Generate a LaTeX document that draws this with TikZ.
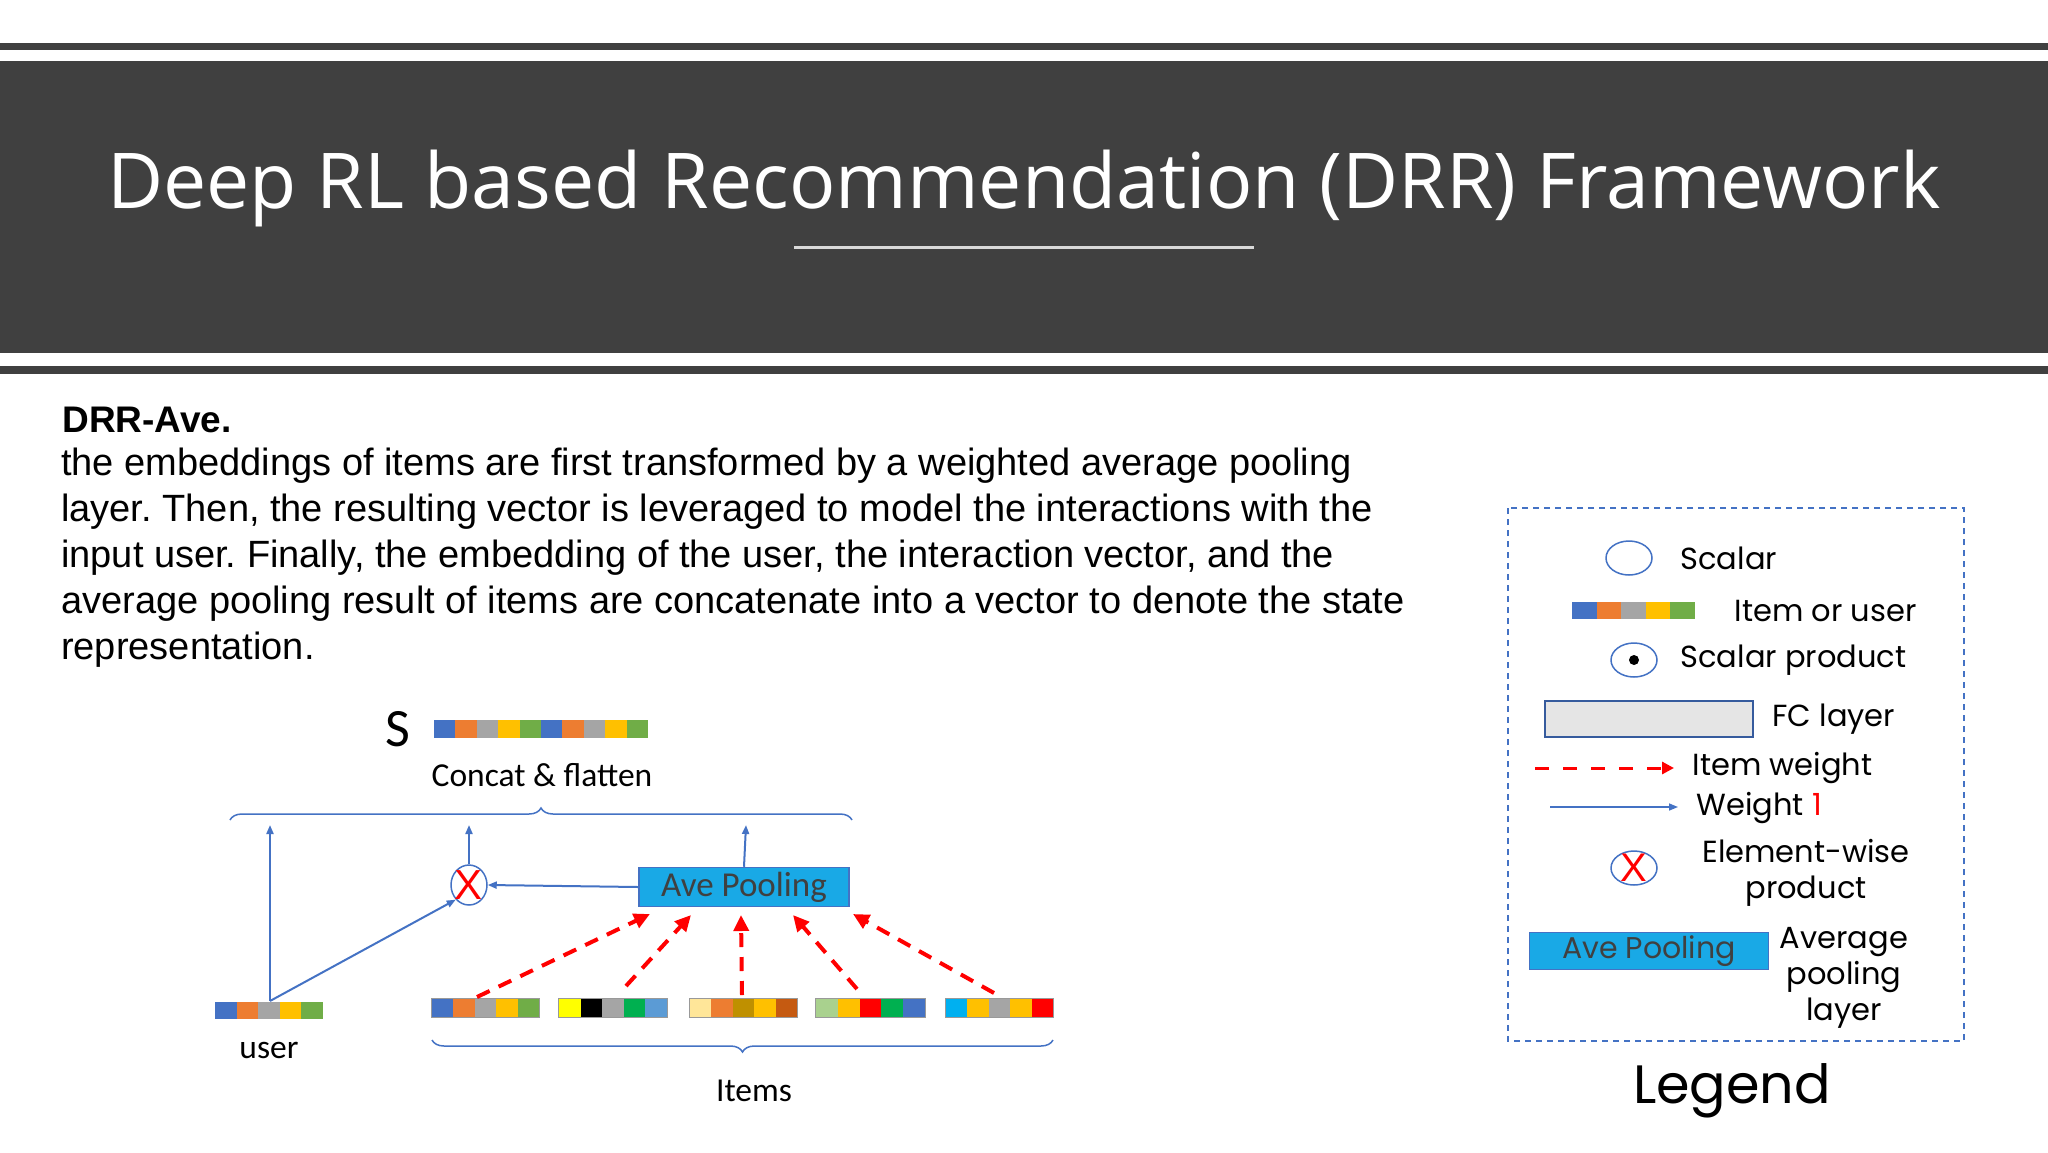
\documentclass[tikz,border=0pt]{standalone}
\usepackage{fontspec}
\setmainfont{Liberation Sans}
\newfontfamily\calfont{Carlito}
\newfontfamily\legfont{Poppins}
\newfontfamily\ttlfont{Open Sans}
\usetikzlibrary{arrows.meta,decorations.pathreplacing,shapes.geometric}
\definecolor{cB}{HTML}{4472C4}\definecolor{cO}{HTML}{ED7D31}\definecolor{cG}{HTML}{A5A5A5}
\definecolor{cY}{HTML}{FFC000}\definecolor{cN}{HTML}{70AD47}\definecolor{cYY}{HTML}{FFFF00}
\definecolor{cK}{HTML}{000000}\definecolor{cGG}{HTML}{00B050}\definecolor{cL}{HTML}{5B9BD5}
\definecolor{cLY}{HTML}{FFE699}\definecolor{cDG}{HTML}{BF9000}\definecolor{cBr}{HTML}{C55A11}
\definecolor{cLG}{HTML}{A9D18E}\definecolor{cR}{HTML}{FF0000}\definecolor{cC}{HTML}{00B0F0}
\definecolor{band}{HTML}{404040}\definecolor{lnblue}{HTML}{4472C4}\definecolor{pool}{HTML}{19A9E6}
\newcommand{\cellbar}[6]{% name, x0, y0, x1, y1, colours
  \node[inner sep=0pt,minimum width=#4-#2,minimum height=#5-#3] (#1) at ({(#2+#4)/2},{(#3+#5)/2}) {};
  \foreach \c [count=\i from 0] in {#6}{\xdef\ncell{\i}}
  \pgfmathsetmacro\cw{(#4-#2)/(\ncell+1)}
  \foreach \c [count=\i from 0] in {#6}{\fill[\c] ({#2+\i*\cw},#3) rectangle ({#2+(\i+1)*\cw},#5);}
}
\tikzset{
  wone/.style={draw=lnblue,line width=2pt,-{Triangle[length=9pt,width=7pt]}},
  iw/.style={draw=red,line width=4pt,dash pattern=on 14pt off 10pt,-{Triangle[length=16pt,width=15pt]}},
  brc/.style={draw=lnblue,line width=1.5pt,decorate,decoration={brace,amplitude=12pt}},
  poolbox/.style={draw=lnblue,line width=1.5pt,fill=pool,inner sep=0pt},
  caltxt/.style={font=\calfont\fontsize{33.5}{36}\selectfont},
  legt/.style={font=\legfont\fontsize{30.5}{36}\selectfont,align=center},
  ell/.style={draw=lnblue,line width=1.5pt,fill=white,ellipse}
}
\begin{document}
\frenchspacing
\begin{tikzpicture}[x=1pt,y=-1pt]
\useasboundingbox (0,0) rectangle (2048,1152);
\fill[white] (0,0) rectangle (2048,1152);
% header
\fill[band] (0,43) rectangle (2048,50);
\fill[band] (0,61) rectangle (2048,353);
\fill[band] (0,366) rectangle (2048,374);
\node[text=white,font=\ttlfont\fontsize{77}{84}\selectfont] (title) at (1024,188) {Deep RL based Recommendation (DRR) Framework};
\draw[white!85!black,line width=3pt] (794,247) coordinate (ul1) -- (1254,247) coordinate (ul2);
% text
\node[anchor=west,font=\bfseries\fontsize{37}{46}\selectfont] (hd) at (59,420) {DRR-Ave.};
\node[anchor=north west,align=left,font=\fontsize{38}{46}\selectfont,inner sep=0pt] (body) at (61,448) {the embeddings of items are first transformed by a weighted average pooling\\layer. Then, the resulting vector is leveraged to model the interactions with the\\input user. Finally, the embedding of the user, the interaction vector, and the\\average pooling result of items are concatenate into a vector to denote the state\\representation.};
% diagram
\node[font=\calfont\fontsize{54}{56}\selectfont] (S) at (398,729) {S};
\cellbar{svec}{434}{720}{648}{738}{cB,cO,cG,cY,cN,cB,cO,cG,cY,cN}
\node[caltxt] (cf) at (542,775) {Concat \& flatten};
\draw[brc] (230,820) -- (852,820);
\cellbar{user}{215}{1002}{323}{1019}{cB,cO,cG,cY,cN}
\node[caltxt] (ulab) at (269,1050) {user};
\cellbar{it1}{432}{999}{539}{1017}{cB,cO,cG,cY,cN}
\cellbar{it2}{559}{999}{667}{1017}{cYY,cK,cG,cGG,cL}
\cellbar{it3}{690}{999}{797}{1017}{cLY,cO,cDG,cY,cBr}
\cellbar{it4}{816}{999}{925}{1017}{cLG,cY,cR,cGG,cB}
\cellbar{it5}{946}{999}{1053}{1017}{cC,cY,cG,cY,cR}
\foreach \n in {it1,it2,it3,it4,it5} \draw[black!40,line width=0.8pt] (\n.south west) rectangle (\n.north east);
\draw[brc] (1053,1040) -- (432,1040);
\node[caltxt] (ilab) at (754,1091) {Items};
\node[poolbox,minimum width=210pt,minimum height=39pt] (pool) at (744,887) {};
\node[font=\calfont\fontsize{35}{36}\selectfont,text=black!75] (pooltxt) at (pool) {Ave Pooling};
\node[ell,minimum width=36pt,minimum height=40pt] (ex) at (469,885) {};
\node[text=red,font=\fontsize{42}{44}\selectfont] (exx) at (ex) {X};
\coordinate (top1) at (270,825);
\coordinate (top2) at (469,825);
\coordinate (top3) at (746,825);
\coordinate (ub) at (270,1001);
\draw[wone] (ub) -- (top1);
\draw[wone] (ub) -- (ex.south west);
\draw[wone] (ex.north) -- (top2);
\draw[wone] (pool.west) -- (ex.east);
\draw[wone] (pool.north) -- (top3);
\coordinate (p1) at (650,914);\coordinate (p2) at (691,915);\coordinate (p3) at (741,915);
\coordinate (p4) at (793,915);\coordinate (p5) at (853,914);
\draw[iw] (477,997) -- (p1);
\draw[iw] (626,986) -- (p2);
\draw[iw] (742,995) -- (p3);
\draw[iw] (857,989) -- (p4);
\draw[iw] (994,993) -- (p5);
% legend
\draw[lnblue,line width=1.5pt,dash pattern=on 6pt off 5pt] (1508,508) rectangle (1964,1041);
\node[font=\legfont\fontsize{54}{58}\selectfont] (lg) at (1732,1091) {Legend};
\node[ell,minimum width=46pt,minimum height=34pt] (l1) at (1629,558) {};
\node[legt,anchor=west] (l1t) at (1677,558) {Scalar};
\cellbar{l2}{1572}{602}{1695}{619}{cB,cO,cG,cY,cN}
\node[legt,anchor=west] (l2t) at (1731,611) {Item or user};
\node[ell,minimum width=46pt,minimum height=34pt] (l3) at (1634,660) {};
\fill (l3) circle (5pt);
\node[legt,anchor=west] (l3t) at (1677,660) {Scalar product};
\node[draw=lnblue!80!black,line width=1.5pt,fill=black!10,minimum width=208pt,minimum height=36pt] (l4) at (1649,719) {};
\node[legt,anchor=west] (l4t) at (1769,719) {FC layer};
\coordinate (l5a) at (1535,768);\coordinate (l5b) at (1674,768);
\draw[iw,line width=3pt,dash pattern=on 14pt off 14pt,-{Triangle[length=12pt,width=12pt]}] (l5a) -- (l5b);
\node[legt,anchor=west] (l5t) at (1689,768) {Item weight};
\coordinate (l6a) at (1550,807);\coordinate (l6b) at (1678,807);
\draw[wone,line width=1.5pt] (l6a) -- (l6b);
\node[legt,anchor=west] (l6t) at (1693,808) {Weight \textcolor{red}{1}};
\node[ell,minimum width=46pt,minimum height=34pt] (l7) at (1634,868) {};
\node[text=red,font=\fontsize{40}{42}\selectfont] (l7x) at (l7) {X};
\node[legt] (l7t) at (1806,873) {Element-wise\\product};
\node[poolbox,minimum width=239pt,minimum height=37pt] (l8) at (1649,951) {};
\node[font=\legfont\fontsize{30}{32}\selectfont,text=black!75] (l8i) at (l8) {Ave Pooling};
\node[legt] (l8t) at (1844,978) {Average\\pooling\\layer};
\end{tikzpicture}
\end{document}
